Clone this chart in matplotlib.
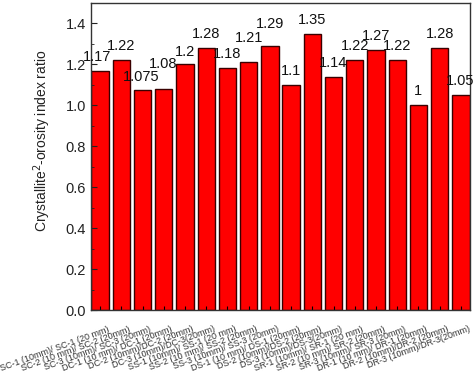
import matplotlib
matplotlib.use("Agg")
import matplotlib.pyplot as plt
from matplotlib.ticker import MultipleLocator
import matplotlib.transforms as mtransforms

plt.rcParams['font.family'] = ['Liberation Sans', 'DejaVu Sans']

categories = [
    "SC-1 (10mm)/ SC-1 (20 mm)", "SC-2 (10 mm)/ SC-2 (20mm)", "SC-3 (10mm)/ SC-3 (20mm)",
    "DC-1 (10 mm)/ DC-1 (20mm)", "DC-2 (10mm)/DC-2 (20mm)", "DC-3 (10mm)/DC-3(20mm)",
    "SS-1 (10mm)/ SS-1 (20 mm)", "SS-2 (10 mm)/ SS-2 (20mm)", "SS-3 (10mm)/ SS-3 (20mm)",
    "DS-1 (10 mm)/ DS-1 (20mm)", "DS-2 (10mm)/DS-2 (20mm)", "DS-3 (10mm)/DS-3(20mm)",
    "SR-1 (10mm)/ SR-1 (20 mm)", "SR-2 (10 mm)/ SR-2 (20mm)", "SR-3 (10mm)/ SR-3 (20mm)",
    "DR-1 (10 mm)/ DR-1 (20mm)", "DR-2 (10mm)/DR-2 (20mm)", "DR-3 (10mm)/DR-3(20mm)",
]
values = [1.17, 1.22, 1.075, 1.08, 1.2, 1.28, 1.18, 1.21, 1.29,
          1.1, 1.35, 1.14, 1.22, 1.27, 1.22, 1.0, 1.28, 1.05]
value_labels = ["1.17", "1.22", "1.075", "1.08", "1.2", "1.28", "1.18", "1.21", "1.29",
                "1.1", "1.35", "1.14", "1.22", "1.27", "1.22", "1", "1.28", "1.05"]
# style: pixel offsets of value labels (dx, gap above bar top)
label_dx = [-3, 0, -1, -1, 0, 0, 0, 0, 0, 0, 0, 0, 0, 0, 0, 0, 0, -1]
label_gap = [10, 10, 9, 21, 8, 10, 10, 20, 18, 10, 10, 10, 10, 10, 10, 10, 10, 10]

fig = plt.figure(figsize=(4.74, 3.74), dpi=100)
ax = fig.add_axes([91/474, 1 - 310/374, (470-91)/474, (310-3)/374])

x = list(range(len(values)))
ax.bar(x, values, width=0.82, color='#ff0000', edgecolor='#3a0000', linewidth=1.0)
for xi, v, lab, dx, gap in zip(x, values, value_labels, label_dx, label_gap):
    ax.annotate(lab, (xi, v), xytext=(dx, gap), textcoords='offset pixels',
                ha='center', va='baseline', fontsize=10.5, color='#111111')

ax.set_xlim(-0.43, len(values) - 0.57)
ax.set_ylim(0, 1.5)
ax.yaxis.set_minor_locator(MultipleLocator(0.1))
ax.set_yticks([0.0, 0.2, 0.4, 0.6, 0.8, 1.0, 1.2, 1.4])
ax.set_yticklabels(["0.0", "0.2", "0.4", "0.6", "0.8", "1.0", "1.2", "1.4"])
ax.tick_params(axis='y', which='both', direction='in', labelsize=10.5, colors='#222222')
ax.tick_params(axis='y', which='major', length=4)
ax.tick_params(axis='y', which='minor', length=2)
ax.set_xticks(x)
ax.set_xticklabels(categories, rotation=20, ha='right', rotation_mode='anchor',
                   fontsize=6.5, color='#333333')
ax.tick_params(axis='x', direction='in', length=3, pad=4)
offset = mtransforms.ScaledTranslation(7/100, -9/100, fig.dpi_scale_trans)
for lbl in ax.get_xticklabels():
    lbl.set_transform(lbl.get_transform() + offset)
ax.set_ylabel("Crystallite$^{2}$-orosity index ratio", fontsize=10, color='#222222')
ax.yaxis.set_label_coords(-0.1, 0.55)
for s in ax.spines.values():
    s.set_linewidth(1.0)
    s.set_color('#333333')

fig.savefig("out.png", dpi=100)
